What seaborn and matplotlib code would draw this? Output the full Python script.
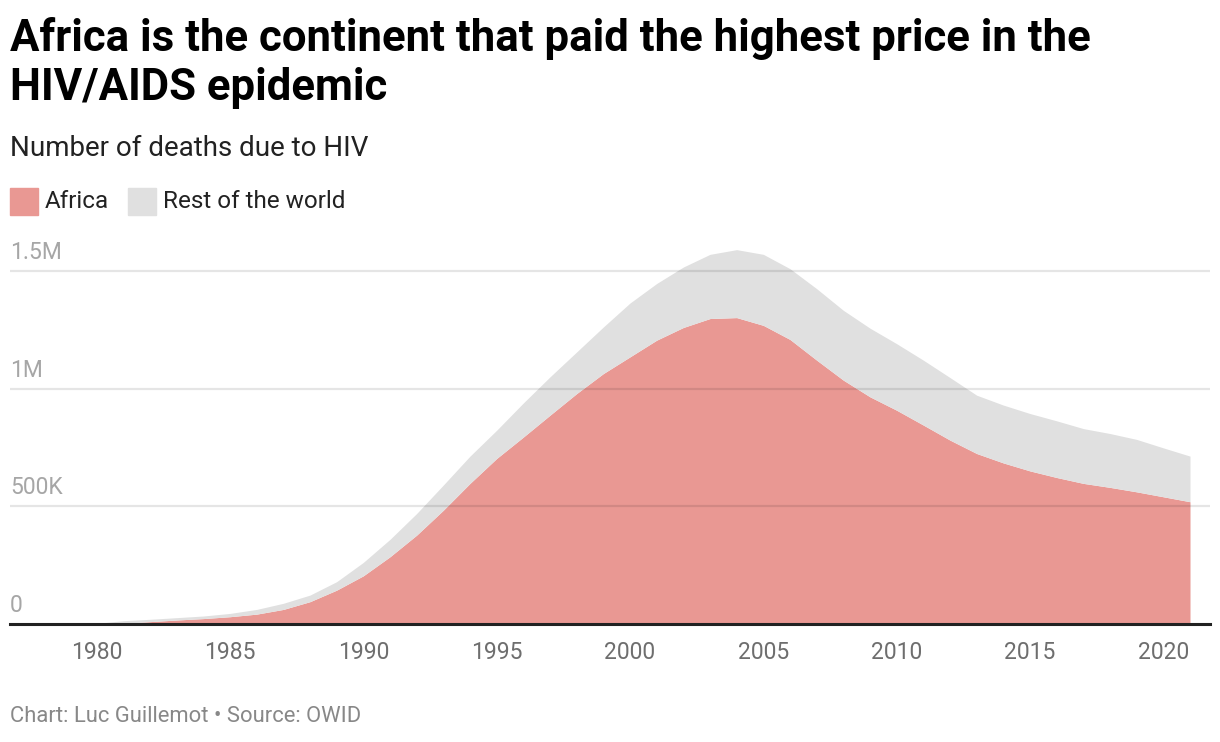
import numpy as np
import pandas as pd
import matplotlib
matplotlib.use("Agg")
import matplotlib.pyplot as plt
import matplotlib.transforms as mtransforms
from matplotlib.patches import Rectangle
import seaborn as sns

# deaths due to HIV
years = list(range(1980, 2022))
africa = [500, 3000, 10000, 17000, 23000, 31000, 42000, 62000, 95000, 144000,
          205000, 286000, 378000, 484000, 598000, 704000, 795000, 888000, 980000, 1065000,
          1136000, 1207000, 1261000, 1299000, 1303000, 1270000, 1210000, 1122000, 1037000, 966000,
          909000, 846000, 782000, 725000, 685000, 651000, 623000, 598000, 581000, 562000,
          541000, 520000]
total = [3000, 14000, 20000, 27000, 34000, 45000, 62000, 88000, 123000, 180000,
         262000, 360000, 470000, 591000, 714000, 824000, 940000, 1051000, 1157000, 1263000,
         1365000, 1448000, 1518000, 1572000, 1592000, 1572000, 1511000, 1426000, 1334000, 1258000,
         1192000, 1122000, 1048000, 973000, 931000, 895000, 864000, 831000, 810000, 785000,
         749000, 714000]
rest = [t - a for t, a in zip(total, africa)]

series = ["Africa", "Rest of the world"]
colors = ["#E99893", "#E0E0E0"]
yticks = [0, 500000, 1000000, 1500000]
yticklabels = ["0", "500K", "1M", "1.5M"]
xticks = list(range(1980, 2021, 5))

df = pd.DataFrame({
    "year": years * 2,
    "deaths": africa + rest,
    "region": [series[0]] * len(years) + [series[1]] * len(years),
})

sns.set_theme(style="white")
plt.rcParams["font.family"] = ["Roboto", "DejaVu Sans"]

W, H = 1220, 742
fig = plt.figure(figsize=(W / 100, H / 100), dpi=100)
ax = fig.add_axes([10 / W, (H - 624) / H, 1200 / W, (624 - 236) / H])

sns.histplot(data=df, x="year", weights="deaths", hue="region",
             hue_order=series[::-1], palette=dict(zip(series, colors)),
             multiple="stack", element="poly", discrete=True,
             alpha=1, linewidth=0, legend=False, ax=ax)

ax.set_xlim(1976.75, 2021.75)
ax.set_ylim(0, 1650000)
ax.set_xlabel("")
ax.set_ylabel("")
for s in ["top", "right", "left"]:
    ax.spines[s].set_visible(False)
ax.spines["bottom"].set_color("#222222")
ax.spines["bottom"].set_linewidth(2.2)
ax.spines["bottom"].set_zorder(5)

ax.set_yticks(yticks)
ax.set_yticklabels([])
ax.tick_params(axis="y", length=0)
for v in yticks[1:]:
    ax.axhline(v, color="black", alpha=0.1, lw=1.6, zorder=4)
off = mtransforms.offset_copy(ax.get_yaxis_transform(), fig=fig, x=0, y=7, units="dots")
for v, lab in zip(yticks, yticklabels):
    ax.text(0, v, lab, transform=off, ha="left", va="bottom",
            fontsize=16.5, color="#A6A6A6")

ax.set_xticks(xticks)
ax.set_xticklabels([str(x) for x in xticks])
ax.tick_params(axis="x", length=0, pad=12, labelsize=16.5, labelcolor="#6E6E6E")

fig.text(10 / W, 1 - 17 / H, "Africa is the continent that paid the highest price in the\nHIV/AIDS epidemic",
         ha="left", va="top", fontsize=31.5, fontweight="bold", color="black", linespacing=1.2)
fig.text(10 / W, 1 - 148 / H, "Number of deaths due to HIV", ha="left", va="center",
         fontsize=20, color="#222222")

# legend
for x0, lab, c in zip([10, 128], series, colors):
    fig.patches.append(Rectangle((x0 / W, 1 - 215 / H), 28 / W, 27 / H,
                                 transform=fig.transFigure, color=c))
    fig.text((x0 + 35) / W, 1 - 201 / H, lab, ha="left", va="center",
             fontsize=17.5, color="#222222")

fig.text(10 / W, 1 - 716 / H, "Chart: Luc Guillemot \u2022 Source: OWID", ha="left", va="center",
         fontsize=15.8, color="#888888")

fig.savefig("out.png", dpi=100, facecolor="white")
